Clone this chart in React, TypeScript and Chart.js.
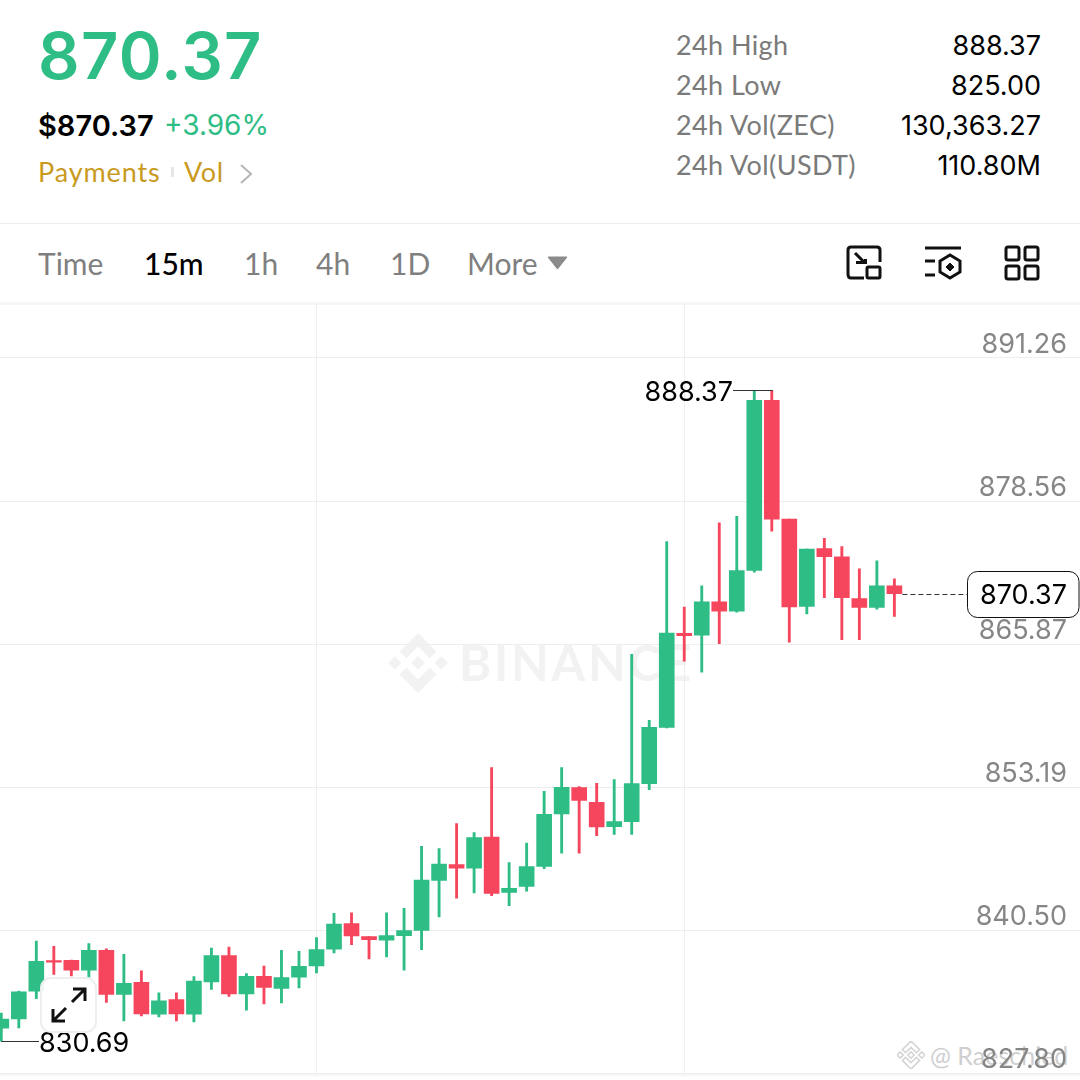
import React, { useEffect, useRef } from "react";
import { Chart, registerables } from "chart.js";

Chart.register(...registerables);

const opens = [831.84,832.66,835.12,837.84,837.86,836.98,838.75,834.83,835.91,833.08,834.38,833.08,835.94,838.28,834.88,836.45,835.38,836.36,837.36,838.84,841.12,839.96,839.64,840.05,840.52,844.95,846.34,846.04,848.79,843.89,844.42,846.19,850.83,853.17,851.86,849.71,850.15,853.52,858.51,866.84,866.69,869.65,868.82,872.42,887.51,876.97,869.23,874.37,873.64,869.94,869.14,871.07];
const closes = [832.64,835.06,837.78,837.69,836.98,838.75,834.83,835.83,833.11,834.26,833.11,836.03,838.28,834.88,836.45,835.45,836.33,837.33,838.81,841.08,840.02,839.70,840.05,840.50,844.98,846.40,846.04,848.74,843.80,844.24,846.17,850.80,853.19,852.04,849.68,850.15,853.52,858.51,866.87,866.64,869.65,868.82,872.42,887.51,876.97,869.20,874.31,873.64,870.00,869.14,871.07,870.37];
const highs = [833.19,835.14,839.57,839.10,837.88,839.34,838.87,838.40,836.92,834.97,834.97,836.42,838.95,839.04,836.69,837.36,838.75,838.66,839.88,842.03,842.06,839.96,842.06,842.47,847.97,847.76,849.98,849.18,854.94,846.52,848.26,852.84,854.94,853.26,853.55,853.88,864.98,859.13,874.99,869.17,871.07,876.65,877.23,888.37,888.37,876.97,874.31,875.28,874.55,872.57,873.28,871.69];
const lows = [830.69,831.87,834.47,836.62,836.47,836.36,834.12,832.49,832.93,832.84,832.49,832.40,835.27,834.67,833.43,833.99,834.08,835.41,836.74,838.51,839.24,837.98,838.16,836.98,838.81,841.70,843.38,843.83,843.60,842.71,844.00,845.99,847.37,847.37,848.91,849.03,849.03,852.99,858.47,864.39,863.41,865.93,868.73,872.27,875.90,866.07,868.58,870.00,866.28,866.28,868.99,868.35];
const priceTicks = [891.26, 878.56, 865.87, 853.19, 840.5, 827.8];
const timeTicks = [18, 39];
const lastPrice = 870.37;
const highPrice = 888.37;
const lowPrice = 830.69;
const stats = [
  ["24h High", "888.37"],
  ["24h Low", "825.00"],
  ["24h Vol(ZEC)", "130,363.27"],
  ["24h Vol(USDT)", "110.80M"],
];
const tabs: [string, number, boolean][] = [
  ["Time", 38, false],
  ["15m", 144, true],
  ["1h", 244, false],
  ["4h", 316, false],
  ["1D", 390, false],
  ["More", 467, false],
];

const WORD = "Lato, 'Open Sans', sans-serif";
const NUM = "Inter, Lato, sans-serif";
const GREEN = "#2EBD85";
const RED = "#F6465D";
const GRID = "#eeeeee";

const LOGO = "M38.73 53.2L63.3 28.63l24.59 24.58 14.3-14.3L63.3 0 24.43 38.9l14.3 14.3zM0 63.31l14.3-14.3 14.3 14.3-14.3 14.3zM38.73 73.41L63.3 98l24.59-24.59 14.31 14.29L63.3 126.61l-38.88-38.88 14.31-14.32zM97.99 63.31l14.3-14.3 14.3 14.3-14.3 14.3zM77.83 63.3L63.3 48.76 52.56 59.5l-1.24 1.24-2.54 2.54 14.52 14.52L77.83 63.3z";

function T(props: { x?: number; r?: number; y: number; s: number; c: string; w?: number; ls?: number; f?: string; children: React.ReactNode }) {
  const { x, r, y, s, c, w = 400, ls = 0, f = WORD, children } = props;
  return (
    <div
      style={{
        position: "absolute",
        left: x,
        right: r !== undefined ? 1080 - r : undefined,
        top: y - s / 2,
        fontFamily: f,
        fontSize: s,
        lineHeight: `${s}px`,
        fontWeight: w,
        color: c,
        letterSpacing: ls,
        whiteSpace: "nowrap",
      }}
    >
      {children}
    </div>
  );
}

const annotations = {
  id: "annotations",
  afterDraw(chart: any) {
    const { ctx, scales } = chart;
    const xs = scales.x;
    const ys = scales.y;
    const hiIdx = highs.lastIndexOf(highPrice);
    const loIdx = lows.indexOf(lowPrice);
    const lastIdx = closes.length - 1;
    ctx.save();
    ctx.font = `27px ${NUM}`;
    ctx.textBaseline = "middle";
    ctx.strokeStyle = "#333";
    ctx.fillStyle = "#000";
    ctx.lineWidth = 1;
    // high leader
    const hy = Math.round(ys.getPixelForValue(highPrice)) - 0.5;
    ctx.beginPath();
    ctx.moveTo(733, hy);
    ctx.lineTo(xs.getPixelForValue(hiIdx) + 1, hy);
    ctx.stroke();
    ctx.textAlign = "right";
    ctx.fillText(highPrice.toFixed(2), 733, hy + 2);
    // low leader
    const ly = Math.round(ys.getPixelForValue(lowPrice)) + 0.5;
    ctx.beginPath();
    ctx.moveTo(xs.getPixelForValue(loIdx), ly);
    ctx.lineTo(39, ly);
    ctx.stroke();
    ctx.textAlign = "left";
    ctx.fillText(lowPrice.toFixed(2), 39, ly + 2);
    // last price
    const py = Math.round(ys.getPixelForValue(lastPrice)) + 0.5;
    ctx.setLineDash([5, 3]);
    ctx.beginPath();
    ctx.moveTo(xs.getPixelForValue(lastIdx) + 8, py);
    ctx.lineTo(967, py);
    ctx.stroke();
    ctx.setLineDash([]);
    ctx.beginPath();
    ctx.roundRect(967.5, py - 23, 111.5, 46, 10);
    ctx.fillStyle = "#fff";
    ctx.fill();
    ctx.strokeStyle = "#111";
    ctx.stroke();
    ctx.fillStyle = "#000";
    ctx.textAlign = "center";
    ctx.fillText(lastPrice.toFixed(2), 1023.5, py + 1);
    ctx.restore();
  },
};

export default function App() {
  const ref = useRef<HTMLCanvasElement>(null);
  useEffect(() => {
    document.body.style.margin = "0";
    document.body.style.background = "#fff";
    const idx = closes.map((_, i) => i);
    const colors = idx.map((i) => (closes[i] > opens[i] ? GREEN : RED));
    const chart = new Chart(ref.current as HTMLCanvasElement, {
      type: "bar",
      data: {
        datasets: [
          {
            data: idx.map((i) => ({ x: i, y: [opens[i], closes[i]] })),
            backgroundColor: colors,
            barThickness: 15,
            grouped: false,
            borderSkipped: false,
          },
          {
            data: idx.map((i) => ({ x: i, y: [lows[i], highs[i]] })),
            backgroundColor: colors,
            barThickness: 2.2,
            grouped: false,
            borderSkipped: false,
          },
        ] as any,
      },
      options: {
        animation: false,
        responsive: false,
        devicePixelRatio: 1,
        layout: { padding: { top: 303.6, bottom: 6.2, left: 0, right: 0 } },
        plugins: { legend: { display: false }, tooltip: { enabled: false } },
        scales: {
          x: {
            type: "linear",
            offset: false,
            min: -0.074,
            max: 61.6,
            border: { display: false },
            grid: { color: GRID, lineWidth: 1, drawTicks: false, offset: false },
            ticks: { display: false },
            afterBuildTicks: (s: any) => {
              s.ticks = timeTicks.map((value) => ({ value }));
            },
          },
          y: {
            position: "right",
            min: 827.8,
            max: 896.08,
            border: { display: false },
            grid: { color: GRID, lineWidth: 1, drawTicks: false },
            ticks: {
              mirror: true,
              padding: -13,
              labelOffset: -13.5,
              autoSkip: false,
              color: "#868686",
              font: { family: NUM, size: 27 },
              callback: (v: any) => Number(v).toFixed(2),
            },
            afterBuildTicks: (s: any) => {
              s.ticks = priceTicks.map((value) => ({ value }));
            },
            afterFit: (s: any) => {
              s.width = 0;
              s.paddingTop = 0;
              s.paddingBottom = 0;
            },
          },
        },
      } as any,
      plugins: [annotations],
    });
    return () => chart.destroy();
  }, []);

  return (
    <div style={{ position: "relative", width: 1080, height: 1080, overflow: "hidden", background: "#fff" }}>
      {/* header */}
      <T x={38} y={55} s={65} c={GREEN} w={600} ls={1.3} f={NUM}>870.37</T>
      <T x={38} y={125} s={29} c="#000" w={600} f={NUM}>$870.37</T>
      <T x={164} y={125} s={28} c={GREEN} f={NUM}>+3.96%</T>
      <T x={38} y={171} s={27} c="#C99A1E" ls={0.9}>Payments</T>
      <div style={{ position: "absolute", left: 171, top: 167, width: 3, height: 10, background: "#e6e6e6" }} />
      <T x={184} y={171} s={27} c="#C99A1E" ls={0.6}>Vol</T>
      <svg style={{ position: "absolute", left: 238, top: 162 }} width={18} height={22}>
        <path d="M3 3 L13 12 L3 21" fill="none" stroke="#b5b5b5" strokeWidth={2} />
      </svg>
      {stats.map(([k, v], i) => (
        <React.Fragment key={k}>
          <T x={676} y={44 + i * 40} s={27} c="#7a7a7a" ls={0.4}>{k}</T>
          <T r={1041} y={45 + i * 40} s={27} c="#000" f={NUM}>{v}</T>
        </React.Fragment>
      ))}
      <div style={{ position: "absolute", left: 0, top: 223, width: 1080, height: 1, background: "#eeeeee" }} />

      {/* tabs */}
      {tabs.map(([t, x, on]) => (
        <T key={t} x={x} y={263} s={30} c={on ? "#000" : "#7f7f7f"} w={on ? 500 : 400}>{t}</T>
      ))}
      <svg style={{ position: "absolute", left: 546, top: 254 }} width={24} height={18}>
        <path d="M2 3 L21 3 L11.5 15 Z" fill="#8a8a8a" stroke="#8a8a8a" strokeLinejoin="round" strokeWidth={1} />
      </svg>
      <svg style={{ position: "absolute", left: 840, top: 240 }} width={210} height={46} fill="none" stroke="#111" strokeWidth={3}>
        <path d="M8 34 V10 Q8 7 11 7 H37 Q40 7 40 10 V22 M8 34 Q8 38 11 38 H24" />
        <rect x={27} y={27} width={13} height={11} rx={1.5} />
        <path d="M15 13 L25 23 M16 22.5 H25.5 V19" />
        <path d="M85 8 H121" />
        <path d="M85 21 H95 M85 35 H95" />
        <path d="M110 15 L120 21 V32 L110 38 L100 32 V21 Z" />
        <path d="M110 23 L114 27 L110 31 L106 27 Z" fill="#111" strokeWidth={1} />
        <rect x={166} y={7} width={13} height={13} rx={2} />
        <rect x={185} y={7} width={13} height={13} rx={2} />
        <rect x={166} y={26} width={13} height={13} rx={2} />
        <rect x={185} y={26} width={13} height={13} rx={2} />
      </svg>

      {/* bands */}
      <div style={{ position: "absolute", left: 0, top: 302, width: 1080, height: 3, background: "#f5f5f5" }} />
      <div style={{ position: "absolute", left: 0, top: 1073, width: 1080, height: 3, background: "#f5f5f5" }} />

      {/* watermarks behind the chart */}
      <svg style={{ position: "absolute", left: 388, top: 633 }} width={60} height={60} viewBox="0 0 126.61 126.61">
        <path d={LOGO} fill="#f2f2f2" />
      </svg>
      <T x={459} y={662} s={49} c="#f2f2f2" w={700} ls={2.6}>BINANCE</T>
      <svg style={{ position: "absolute", left: 897, top: 1041 }} width={28} height={28} viewBox="0 0 126.61 126.61">
        <path d={LOGO} fill="#fff" stroke="#d4d4d4" strokeWidth={7} />
      </svg>
      <T x={930} y={1055} s={25} c="#cfcfcf">@ Raeschied</T>

      <canvas ref={ref} width={1080} height={1080} style={{ position: "absolute", left: 0, top: 0, display: "block" }} />

      {/* expand button */}
      <div
        style={{
          position: "absolute",
          left: 40,
          top: 977,
          width: 53,
          height: 52,
          border: "2px solid #eeeeee",
          borderRadius: 11,
          background: "rgba(255,255,255,0.92)",
        }}
      />
      <svg style={{ position: "absolute", left: 40, top: 977 }} width={57} height={56} fill="none" stroke="#111" strokeWidth={3}>
        <path d="M32 25 L45 12 M33 12 H45 V24" />
        <path d="M26 31 L13 44 M13 32 V44 H25" />
      </svg>
    </div>
  );
}
